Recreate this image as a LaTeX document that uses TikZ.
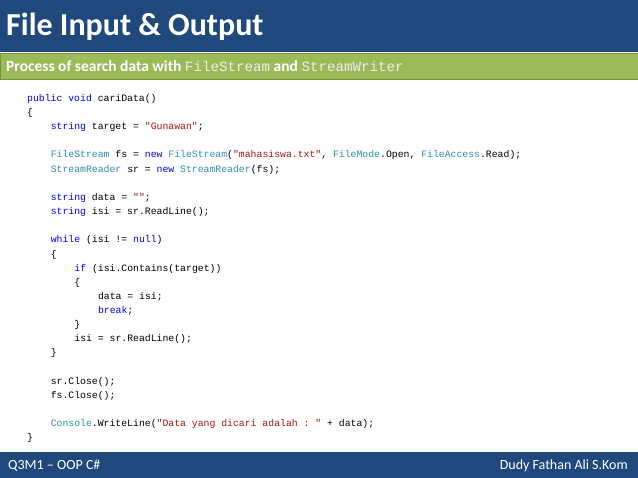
\documentclass[tikz,border=0pt]{standalone}
\usepackage{fontspec}
\setmainfont{Carlito}
\setmonofont{Liberation Mono}
\usepackage{tikz}
\definecolor{SlideBlue}{RGB}{31,73,125}
\definecolor{SlideGreen}{RGB}{155,187,89}
\definecolor{SlideGreenDark}{RGB}{118,146,60}
\definecolor{CodeKey}{RGB}{0,0,255}
\definecolor{CodeStr}{RGB}{163,21,21}
\definecolor{CodeType}{RGB}{43,145,175}
\newcommand{\kw}[1]{\textcolor{CodeKey}{#1}}
\newcommand{\st}[1]{\textcolor{CodeStr}{#1}}
\newcommand{\ty}[1]{\textcolor{CodeType}{#1}}
\newcommand{\ind}{\hspace*{23.6pt}}
\begin{document}
\begin{tikzpicture}[x=1pt,y=-1pt,
  codeline/.style={anchor=base west,inner sep=0pt,font=\fontsize{9.8}{11}\ttfamily},
  band/.style={anchor=west,inner sep=0pt,text=white}]
\useasboundingbox (0,0) rectangle (638,478);
\fill[white] (0,0) rectangle (638,478);
% header, subtitle and footer bands
\fill[SlideBlue] (0,0) rectangle (638,52);
\fill[SlideGreen,draw=SlideGreenDark] (0,53) rectangle (638,79);
\fill[SlideBlue] (0,452) rectangle (638,478);
\node[band,font=\fontsize{32}{36}\bfseries\selectfont] (title) at (6,27) {File Input \& Output};
\node[band,font=\fontsize{15.5}{17}\bfseries\selectfont] (subtitle) at (6,66)
  {Process of search data with \textcolor{white!85!gray}{\mdseries\fontsize{14.2}{16}\ttfamily FileStream} and \textcolor{white!85!gray}{\mdseries\fontsize{14.2}{16}\ttfamily StreamWriter}};
\node[band,font=\fontsize{14}{16}\selectfont] (footl) at (8,466) {Q3M1 – OOP C\#};
\node[band,anchor=east,font=\fontsize{14}{16}\selectfont] (footr) at (628,466) {Dudy Fathan Ali S.Kom};
% code lines
\node[codeline] (c1) at (27,102) {\kw{public} \kw{void} cariData()};
\node[codeline] (c2) at (27,116) {\{};
\node[codeline] (c3) at (27,130) {\ind\kw{string} target = \st{"Gunawan"};};
\node[codeline] (c4) at (27,158) {\ind\ty{FileStream} fs = \kw{new} \ty{FileStream}(\st{"mahasiswa.txt"}, \ty{FileMode}.Open, \ty{FileAccess}.Read);};
\node[codeline] (c5) at (27,173) {\ind\ty{StreamReader} sr = \kw{new} \ty{StreamReader}(fs);};
\node[codeline] (c6) at (27,201) {\ind\kw{string} data = \st{""};};
\node[codeline] (c7) at (27,215) {\ind\kw{string} isi = sr.ReadLine();};
\node[codeline] (c8) at (27,243) {\ind\kw{while} (isi != \kw{null})};
\node[codeline] (c9) at (27,258) {\ind\{};
\node[codeline] (c10) at (27,272) {\ind\ind\kw{if} (isi.Contains(target))};
\node[codeline] (c11) at (27,286) {\ind\ind\{};
\node[codeline] (c12) at (27,300) {\ind\ind\ind data = isi;};
\node[codeline] (c13) at (27,314) {\ind\ind\ind\kw{break};};
\node[codeline] (c14) at (27,328) {\ind\ind\}};
\node[codeline] (c15) at (27,342) {\ind\ind isi = sr.ReadLine();};
\node[codeline] (c16) at (27,356) {\ind\}};
\node[codeline] (c17) at (27,385) {\ind sr.Close();};
\node[codeline] (c18) at (27,399) {\ind fs.Close();};
\node[codeline] (c19) at (27,427) {\ind\ty{Console}.WriteLine(\st{"Data yang dicari adalah : "} + data);};
\node[codeline] (c20) at (27,441) {\}};
\end{tikzpicture}
\end{document}
